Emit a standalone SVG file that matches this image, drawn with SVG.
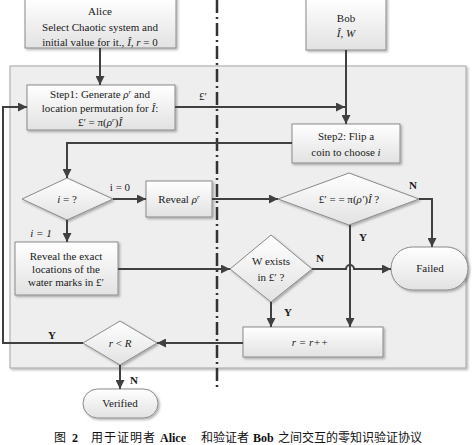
<svg xmlns="http://www.w3.org/2000/svg" width="474" height="445" viewBox="0 0 474 445">
<style>
.box{fill:url(#g);stroke:#8a8a8a;stroke-width:1;filter:url(#sh)}
.bg{fill:#eeeeee;stroke:#a5a5a5;stroke-width:1;filter:url(#sh)}
.t{font-family:"Liberation Serif","Times New Roman",serif;font-size:11px;fill:#1a1a1a;text-anchor:middle}
.lb{font-family:"Liberation Serif","Times New Roman",serif;font-size:11px;fill:#1a1a1a;text-anchor:middle}
.b{font-weight:bold}
.i{font-style:italic}
.c{fill:none;stroke:#404040;stroke-width:2}
.cap{font-family:"Liberation Serif","Noto Sans CJK SC",serif;font-size:12px;fill:#111}
</style>
<defs>
<linearGradient id="g" x1="0" y1="0" x2="0" y2="1"><stop offset="0" stop-color="#ffffff"/><stop offset="1" stop-color="#e2e2e2"/></linearGradient>
<filter id="sh" x="-10%" y="-10%" width="130%" height="140%"><feDropShadow dx="1.5" dy="1.5" stdDeviation="1" flood-color="#000" flood-opacity="0.3"/></filter>
<marker id="a" viewBox="0 0 10 10" refX="10" refY="5" markerWidth="10" markerHeight="9" markerUnits="userSpaceOnUse" orient="auto"><path d="M0,0 L10,5 L0,10 z" fill="#404040"/></marker>
</defs>
<rect class="bg" x="10" y="66" width="456" height="302"/>
<path d="M217,0 V388" fill="none" stroke="#333" stroke-width="2.5" stroke-dasharray="13 4 2 4"/>

<g id="alice"><rect class="box" x="25" y="-2" width="151" height="50"/>
<text class="t" x="100" y="15">Alice</text>
<text class="t" x="100" y="31">Select Chaotic system and</text>
<text class="t" x="100" y="46">initial value for it., <tspan class="i">Î</tspan>,  <tspan class="i">r</tspan> = 0</text></g>

<g id="bob"><rect class="box" x="306" y="-2" width="80" height="52"/>
<text class="t" x="346" y="22">Bob</text>
<text class="t i" x="346" y="37">Î, W</text></g>

<g id="step1"><rect class="box" x="27" y="85" width="148" height="45"/>
<text class="t" x="100" y="98">Step1: Generate <tspan class="i">ρ</tspan><tspan class="i" font-size="7" dy="-4">r</tspan><tspan dy="4"> and</tspan></text>
<text class="t" x="100" y="112">location permutation for <tspan class="i">Î</tspan>:</text>
<text class="t" x="100" y="126">£′ = π(<tspan class="i">ρ</tspan><tspan class="i" font-size="7" dy="-4">r</tspan><tspan dy="4">)</tspan><tspan class="i">Î</tspan></text></g>

<g id="step2"><rect class="box" x="292" y="124" width="108" height="39"/>
<text class="t" x="346" y="140">Step2:  Flip a</text>
<text class="t" x="346" y="156">coin to choose <tspan class="i">i</tspan></text></g>

<g id="dec-i"><polygon class="box" points="22,199 67,178 113,199 67,220"/>
<text class="t" x="67" y="203"><tspan class="i">i</tspan> = ?</text></g>

<g id="reveal"><rect class="box" x="146" y="181" width="66" height="36"/>
<text class="t" x="179" y="203">Reveal <tspan class="i">ρ</tspan><tspan class="i" font-size="7" dy="-4">r</tspan></text></g>

<g id="dec-perm"><polygon class="box" points="278,199 349,173 419,199 349,225"/>
<text class="t" x="349" y="203">£′ = = π(<tspan class="i">ρ′</tspan>)<tspan class="i">Î</tspan> ?</text></g>

<g id="reveal-exact"><rect class="box" x="15" y="242" width="103" height="53"/>
<text class="t" x="66" y="260">Reveal the exact</text>
<text class="t" x="66" y="273">locations of the</text>
<text class="t" x="66" y="286">water marks in £′</text></g>

<g id="dec-w"><polygon class="box" points="230,269 271,235 312,269 271,302"/>
<text class="t" x="271" y="265">W  exists</text>
<text class="t" x="271" y="281">in  £′ ?</text></g>

<g id="failed"><rect class="box" x="391" y="247" width="77" height="43" rx="21.5"/>
<text class="t" x="430" y="272">Failed</text></g>

<g id="inc"><rect class="box" x="243" y="327" width="140" height="30"/>
<text class="t i" x="310" y="346">r  =  r++</text></g>

<g id="dec-r"><polygon class="box" points="83,343 120,321 157,343 120,365"/>
<text class="t" x="120" y="347"><tspan class="i">r</tspan> &lt; <tspan class="i">R</tspan></text></g>

<g id="verified"><rect class="box" x="83" y="389" width="75" height="29" rx="14.5"/>
<text class="t" x="120" y="407">Verified</text></g>

<g id="connectors">
<path class="c" d="M100,48 V85" marker-end="url(#a)"/>
<path class="c" d="M83,343 H3 V107 H27" marker-end="url(#a)"/>
<path class="c" d="M175,107 H345" marker-end="url(#a)"/>
<path class="c" d="M346,50 V124" marker-end="url(#a)"/>
<path class="c" d="M292,143 H67 V178" marker-end="url(#a)"/>
<path class="c" d="M113,199 H146" marker-end="url(#a)"/>
<path class="c" d="M212,199 H278" marker-end="url(#a)"/>
<path class="c" d="M67,220 V242" marker-end="url(#a)"/>
<path class="c" d="M118,269 H230" marker-end="url(#a)"/>
<path class="c" d="M419,199 H432 V247" marker-end="url(#a)"/>
<path class="c" d="M350,225 V327" marker-end="url(#a)"/>
<path class="c" d="M312,269 H346 A4,4 0 0 1 354,269 H391" marker-end="url(#a)"/>
<path class="c" d="M271,302 V327" marker-end="url(#a)"/>
<path class="c" d="M243,343 H157" marker-end="url(#a)"/>
<path class="c" d="M120,365 V389" marker-end="url(#a)"/>
<text class="lb" x="203" y="100">£′</text>
<text class="lb" x="120" y="191">i = 0</text>
<text class="lb i" x="41" y="237">i = 1</text>
<text class="lb b" x="413" y="189">N</text>
<text class="lb b" x="363" y="241">Y</text>
<text class="lb b" x="320" y="262">N</text>
<text class="lb b" x="288" y="316">Y</text>
<text class="lb b" x="52" y="339">Y</text>
<text class="lb b" x="134" y="384">N</text>
</g>

<text class="cap" y="442"><tspan x="54">图</tspan><tspan x="72" font-weight="bold">2</tspan><tspan x="91" textLength="64">用于证明者</tspan><tspan x="160" font-weight="bold">Alice</tspan><tspan x="201">和验证者</tspan><tspan x="253" font-weight="bold">Bob</tspan><tspan x="278">之间交互的零知识验证协议</tspan></text>
</svg>
